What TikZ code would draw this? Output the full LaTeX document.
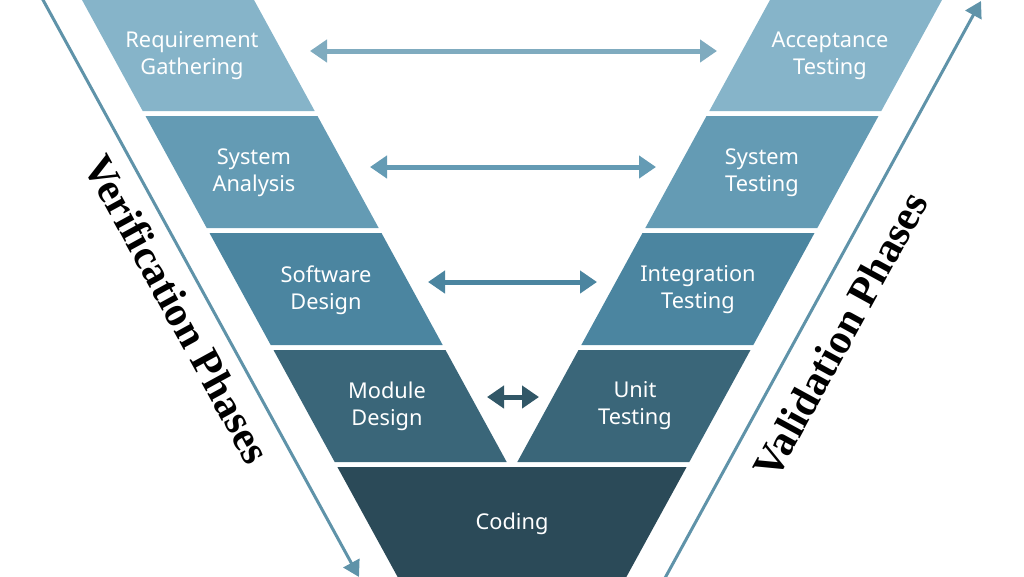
\documentclass[tikz,border=0pt]{standalone}
\usepackage{fontspec}
\setmainfont{Noto Sans}
\newfontfamily\phasefont{Liberation Serif}
\usetikzlibrary{arrows.meta}

\definecolor{bandA}{HTML}{86B4C9}
\definecolor{bandB}{HTML}{649BB4}
\definecolor{bandC}{HTML}{4B85A0}
\definecolor{bandD}{HTML}{3A6679}
\definecolor{bandE}{HTML}{2B4A58}
\definecolor{sideblue}{HTML}{5F93A9}

\begin{document}
\begin{tikzpicture}[x=0.02cm, y=-0.02cm,
  band/.style={font=\fontsize{12.4}{15.4}\selectfont, text=white, align=center},
  phase/.style={font=\phasefont\bfseries\fontsize{24}{28}\selectfont},
  link/.style={{Triangle[length=0.34cm,width=0.44cm]}-{Triangle[length=0.34cm,width=0.44cm]}, line width=0.1cm},
  side/.style={-{Triangle[length=0.32cm,width=0.36cm]}, line width=0.06cm, draw=sideblue, fill=sideblue}]
  \useasboundingbox (0,0) rectangle (1024,576);

  % verification arm
  \fill[bandA] (79.3,-5) -- (251.3,-5) -- (314.7,111) -- (142.7,111) -- cycle;
  \fill[bandB] (145.5,116) -- (317.5,116) -- (378.7,228) -- (206.7,228) -- cycle;
  \fill[bandC] (209.5,233) -- (381.5,233) -- (442.7,345) -- (270.7,345) -- cycle;
  \fill[bandD] (273.5,350) -- (445.5,350) -- (506.7,462) -- (334.7,462) -- cycle;

  % validation arm
  \fill[bandA] (772.7,-5) -- (944.7,-5) -- (881.3,111) -- (709.3,111) -- cycle;
  \fill[bandB] (706.5,116) -- (878.5,116) -- (817.3,228) -- (645.3,228) -- cycle;
  \fill[bandC] (642.5,233) -- (814.5,233) -- (753.3,345) -- (581.3,345) -- cycle;
  \fill[bandD] (578.5,350) -- (750.5,350) -- (689.3,462) -- (517.3,462) -- cycle;

  % bottom of the V
  \fill[bandE] (337.4,467) -- (686.6,467) -- (624.7,580) -- (399.3,580) -- cycle;

  \node[band] (req) at (192,56) {Requirement\\Gathering};
  \node[band] (sysa) at (254,173) {System\\Analysis};
  \node[band] (swd) at (326,290) {Software\\Design};
  \node[band] (mod) at (387,406) {Module\\Design};
  \node[band] (acc) at (830,56) {Acceptance\\Testing};
  \node[band] (syst) at (762,173) {System\\Testing};
  \node[band] (integ) at (698,290) {Integration\\Testing};
  \node[band] (unit) at (635,406) {Unit\\Testing};
  \node[band] (code) at (512,524) {Coding};

  % links between matching phases
  \coordinate (l1) at (310,51);  \coordinate (r1) at (717,51);
  \coordinate (l2) at (370,167); \coordinate (r2) at (656,167);
  \coordinate (l3) at (428,282); \coordinate (r3) at (597,282);
  \coordinate (l4) at (487,397); \coordinate (r4) at (539,397);
  \draw[link, draw=bandA!95!black, fill=bandA!95!black] (l1) -- (r1);
  \draw[link, draw=bandB, fill=bandB] (l2) -- (r2);
  \draw[link, draw=bandC, fill=bandC] (l3) -- (r3);
  \draw[link, draw=bandD!85!black, fill=bandD!85!black] (l4) -- (r4);

  % side arrows
  \coordinate (vtop) at (40.3,-5);
  \coordinate (vbot) at (359,577);
  \coordinate (wbot) at (665,578);
  \coordinate (wtop) at (981,1);
  \draw[side] (vtop) -- (vbot);
  \draw[side] (wbot) -- (wtop);

  \node[phase, rotate=-61.3] (verif) at (178,309) {Verification Phases};
  \node[phase, rotate=61.3] (valid) at (840,335) {Validation Phases};
\end{tikzpicture}
\end{document}
